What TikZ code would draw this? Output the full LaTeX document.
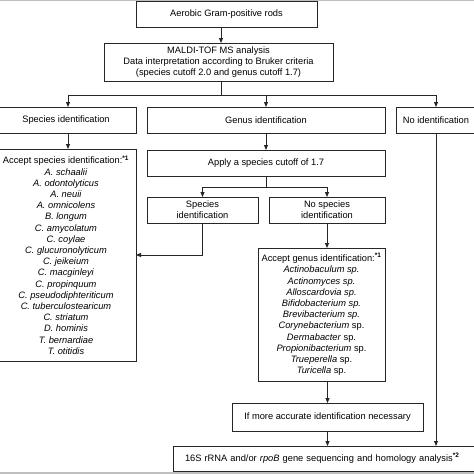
\documentclass[tikz,border=0pt]{standalone}
\usepackage{fontspec}
\setmainfont{Liberation Sans}
\usetikzlibrary{arrows.meta}
\tikzset{
  box/.style={draw=black!85, line width=0.9pt, rectangle, inner sep=0pt, outer sep=0pt, align=center,
    font=\fontsize{9.3}{11.2}\selectfont},
  arr/.style={draw=black!85, line width=0.9pt, -{Triangle[length=5pt,width=4pt]}},
  ln/.style={draw=black!85, line width=0.9pt}
}
\newcommand{\supn}[1]{\textsuperscript{\textbf{*#1}}}
\begin{document}
\begin{tikzpicture}[x=1pt,y=-1pt]
\useasboundingbox (0,0) rectangle (474,474);
\clip (0,0) rectangle (474,474);
\fill[white] (0,0) rectangle (474,474);
\fill[black!25] (0,471.5) rectangle (474,474);
\fill[black!25] (0,0) rectangle (474,0.8);

\node[box, minimum width=181pt, minimum height=26pt] (top) at (226.5,14) {Aerobic Gram-positive rods};
\node[box, minimum width=229pt, minimum height=38pt] (mal) at (218.5,62) {MALDI-TOF MS analysis\\Data interpretation according to Bruker criteria\\(species cutoff 2.0 and genus cutoff 1.7)};
\node[box, minimum width=140pt, minimum height=26pt] (sp) at (66,120) {Species identification};
\node[box, minimum width=238pt, minimum height=26pt] (gen) at (266,120) {Genus identification};
\node[box, minimum width=80pt, minimum height=26pt] (noid) at (436,120) {No identification};
\node[box, minimum width=140pt, minimum height=212pt] (acc) at (66,255) {Accept species identification:\supn{1}\\
\textit{A. schaalii}\\\textit{A. odontolyticus}\\\textit{A. neuii}\\\textit{A. omnicolens}\\\textit{B. longum}\\
\textit{C. amycolatum}\\\textit{C. coylae}\\\textit{C. glucuronolyticum}\\\textit{C. jeikeium}\\\textit{C. macginleyi}\\
\textit{C. propinquum}\\\textit{C. pseudodiphteriticum}\\\textit{C. tuberculostearicum}\\\textit{C. striatum}\\
\textit{D. hominis}\\\textit{T. bernardiae}\\\textit{T. otitidis}};
\node[box, minimum width=238pt, minimum height=26pt] (apply) at (266,163) {Apply a species cutoff of 1.7};
\node[box, minimum width=111pt, minimum height=26pt] (sp2) at (202.5,210) {Species\\identification};
\node[box, minimum width=116pt, minimum height=26pt] (nosp) at (327,210) {No species\\identification};
\node[box, minimum width=127pt, minimum height=133pt] (gacc) at (321.5,314.5) {Accept genus identification:\supn{1}\\
\textit{Actinobaculum sp.}\\\textit{Actinomyces sp.}\\\textit{Alloscardovia sp.}\\\textit{Bifidobacterium sp.}\\
\textit{Brevibacterium sp.}\\\textit{Corynebacterium} sp.\\\textit{Dermabacter} sp.\\\textit{Propionibacterium} sp.\\
\textit{Trueperella} sp.\\\textit{Turicella} sp.};
\node[box, minimum width=191pt, minimum height=28pt] (more) at (327.5,417) {If more accurate identification necessary};
\node[box, minimum height=25pt, text width=281pt, inner xsep=12pt, align=left, anchor=west] (bot) at (173,458.5) {16S rRNA and/or \textit{rpoB} gene sequencing and homology analysis\supn{2}};

\coordinate (jx) at (221,95);
\coordinate (b1) at (68,95);
\coordinate (b3) at (436,95);
\coordinate (c) at (266,187);

\draw[arr] (top.south -| jx) -- (mal.north -| jx);
\draw[ln] (mal.south -| jx) -- (jx);
\draw[ln] (b1) -- (b3);
\draw[arr] (b1) -- (sp.north -| b1);
\draw[arr] (gen.north |- b1) -- (gen.north);
\draw[arr] (b3) -- (noid.north);
\draw[arr] (sp.south -| b1) -- (acc.north -| b1);
\draw[arr] (gen.south) -- (apply.north);
\draw[ln] (apply.south) -- (c);
\draw[ln] (sp2.north |- c) -- (nosp.north |- c);
\draw[arr] (sp2.north |- c) -- (sp2.north);
\draw[arr] (nosp.north |- c) -- (nosp.north);
\draw[arr] (sp2.south) |- (acc.east);
\draw[arr] (nosp.south) -- (gacc.north -| nosp.south);
\draw[arr] (gacc.south -| more.north) -- (more.north);
\draw[arr] (more.south) -- (bot.north -| more.south);
\draw[arr] (noid.south) -- (bot.north -| noid.south);
\end{tikzpicture}
\end{document}
